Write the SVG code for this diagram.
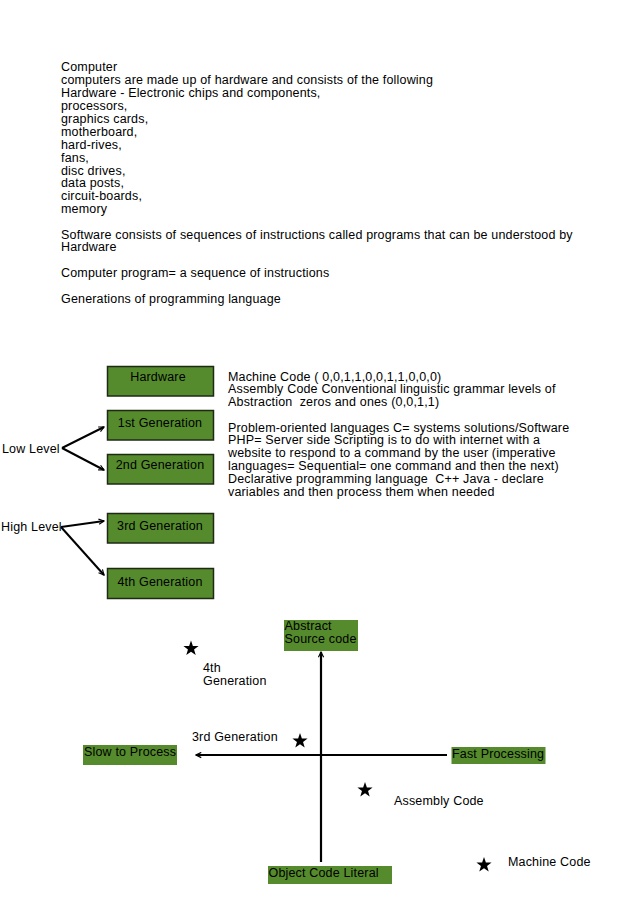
<svg xmlns="http://www.w3.org/2000/svg" width="638" height="903" viewBox="0 0 638 903">
<style>
text{font-family:"Liberation Sans",Arial,sans-serif;font-size:12.5px;letter-spacing:0.17px;fill:#000}
.box{fill:#558b2c;stroke:#1e2a14;stroke-width:1.5}
.hl{fill:#558b2c}
.ln{stroke:#000;stroke-width:2;fill:none}
.ax{stroke:#000;stroke-width:2.2;fill:none}
.mid{text-anchor:middle}
</style>
<defs>
<marker id="ah" viewBox="0 0 8 8" refX="7" refY="4" markerWidth="7" markerHeight="7" markerUnits="userSpaceOnUse" orient="auto">
<path d="M1,1 L7,4 L1,7" fill="none" stroke="#000" stroke-width="1.3"/>
</marker>
<path id="star" d="M0,-8 L1.88,-2.59 L7.61,-2.47 L3.04,0.99 L4.70,6.47 L0,3.2 L-4.70,6.47 L-3.04,0.99 L-7.61,-2.47 L-1.88,-2.59 Z" fill="#000"/>
</defs>
<rect width="638" height="903" fill="#fff"/>
<g id="intro">
<text x="61" y="71.3">Computer</text>
<text x="61" y="84.2">computers are made up of hardware and consists of the following</text>
<text x="61" y="97.1">Hardware - Electronic chips and components,</text>
<text x="61" y="110">processors,</text>
<text x="61" y="122.9">graphics cards,</text>
<text x="61" y="135.8">motherboard,</text>
<text x="61" y="148.7">hard-rives,</text>
<text x="61" y="161.6">fans,</text>
<text x="61" y="174.5">disc drives,</text>
<text x="61" y="187.4">data posts,</text>
<text x="61" y="200.3">circuit-boards,</text>
<text x="61" y="213.2">memory</text>
<text x="61" y="238.5">Software consists of sequences of instructions called programs that can be understood by</text>
<text x="61" y="251.4">Hardware</text>
<text x="61" y="276.5">Computer program= a sequence of instructions</text>
<text x="61" y="302.5">Generations of programming language</text>
</g>
<g id="hardware"><rect class="box" x="107.5" y="366.5" width="106" height="29.5"/><text class="mid" x="158" y="381">Hardware</text></g>
<g id="gen1"><rect class="box" x="107.5" y="410.5" width="106" height="29.5"/><text class="mid" x="160" y="427">1st Generation</text></g>
<g id="gen2"><rect class="box" x="107.5" y="454.5" width="106" height="29.5"/><text class="mid" x="160" y="469">2nd Generation</text></g>
<g id="gen3"><rect class="box" x="107.5" y="513.5" width="106" height="29.5"/><text class="mid" x="160" y="530">3rd Generation</text></g>
<g id="gen4"><rect class="box" x="107.5" y="568.5" width="106" height="30"/><text class="mid" x="160" y="586">4th Generation</text></g>
<g id="lowlevel"><text x="2" y="452.5">Low Level</text></g>
<g id="highlevel"><text x="1" y="530.5">High Level</text></g>
<g id="desc">
<text x="228" y="380.5">Machine Code ( 0,0,1,1,0,0,1,1,0,0,0)</text>
<text x="228" y="393.4">Assembly Code Conventional linguistic grammar levels of</text>
<text x="228" y="406.3" xml:space="preserve">Abstraction  zeros and ones (0,0,1,1)</text>
<text x="228" y="431.5">Problem-oriented languages C= systems solutions/Software</text>
<text x="228" y="444.4">PHP= Server side Scripting is to do with internet with a</text>
<text x="228" y="457.3">website to respond to a command by the user (imperative</text>
<text x="228" y="470.2">languages= Sequential= one command and then the next)</text>
<text x="228" y="483.1" xml:space="preserve">Declarative programming language  C++ Java - declare</text>
<text x="228" y="496">variables and then process them when needed</text>
</g>
<g id="abstract"><rect class="hl" x="284" y="620" width="74" height="31"/><text x="284.5" y="630">Abstract</text><text x="284.5" y="643">Source code</text></g>
<g id="slow"><rect class="hl" x="83" y="745" width="94" height="20"/><text x="84" y="755.5">Slow to Process</text></g>
<g id="fast"><rect class="hl" x="451.5" y="747" width="94" height="17"/><text x="452" y="757.5">Fast Processing</text></g>
<g id="object"><rect class="hl" x="268" y="866" width="124" height="18"/><text x="268.5" y="876.5">Object Code Literal</text></g>
<g id="labels">
<use href="#star" x="191" y="648.5"/>
<text x="203" y="671.5">4th</text>
<text x="203" y="684.5">Generation</text>
<text x="192" y="740.5">3rd Generation</text>
<use href="#star" x="300" y="741"/>
<use href="#star" x="365" y="790"/>
<text x="394" y="804.5">Assembly Code</text>
<use href="#star" x="484" y="865"/>
<text x="508" y="865.5">Machine Code</text>
</g>
<g id="connectors">
<path class="ln" d="M62,448 L104,427" marker-end="url(#ah)"/>
<path class="ln" d="M62,448 L104,470" marker-end="url(#ah)"/>
<path class="ln" d="M61,527 L104,521" marker-end="url(#ah)"/>
<path class="ln" d="M61,527 L104,575" marker-end="url(#ah)"/>
<path class="ax" d="M321,862 L321,652" marker-end="url(#ah)"/>
<path class="ax" d="M447,755 L196,755" marker-end="url(#ah)"/>
</g>
</svg>
